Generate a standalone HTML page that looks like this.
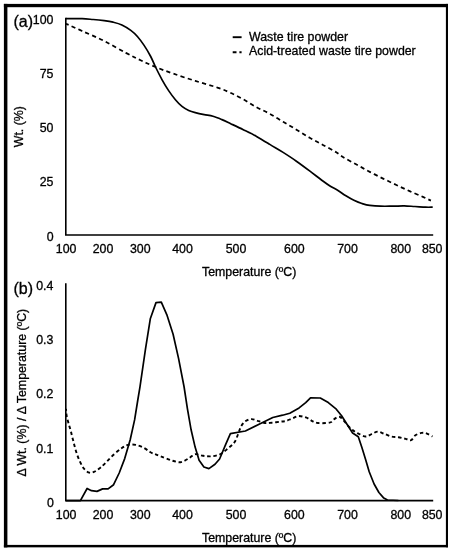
<!DOCTYPE html>
<html><head><meta charset="utf-8"><title>TGA</title>
<style>
html,body{margin:0;padding:0;background:#fff;}
body{width:452px;height:550px;overflow:hidden;position:relative;}
svg{position:absolute;left:0;top:0;display:block;}
text{font-family:"Liberation Sans",Arial,Helvetica,sans-serif;font-size:12.35px;fill:#000;stroke:#000;stroke-width:0.3px;}
.big{font-size:16px;}
.ln{fill:none;stroke:#000;stroke-width:1.7;stroke-linejoin:round;stroke-linecap:butt;}
.dt{fill:none;stroke:#000;stroke-width:1.75;stroke-dasharray:4.2 3.3;stroke-dashoffset:1.3;stroke-linejoin:round;}
.ax{fill:none;stroke:#000;stroke-width:1.6;stroke-linecap:square;}
</style></head><body>
<svg width="452" height="550" viewBox="0 0 452 550">
<rect x="0" y="0" width="452" height="550" fill="#fff"/>
<!-- frame -->
<rect x="3.9" y="3.9" width="444.1" height="3.3" fill="#000"/>
<rect x="3.9" y="3.9" width="3.5" height="543.5" fill="#000"/>
<rect x="445.9" y="3.9" width="2.1" height="543.4" fill="#000"/>
<rect x="3.9" y="544.9" width="444.1" height="2.45" fill="#000"/>

<!-- panel a -->
<text class="big" x="13.5" y="27">(a)</text>
<path class="ax" d="M65.8 18.6 V235.05 H432.4"/>
<g text-anchor="end">
<text x="53.4" y="23.7">100</text>
<text x="53.4" y="77.6">75</text>
<text x="53.4" y="131.7">50</text>
<text x="53.4" y="186.1">25</text>
<text x="53.7" y="240.6">0</text>
</g>
<text x="66.1" y="253.1" text-anchor="middle">100</text><text x="103.0" y="253.1" text-anchor="middle">200</text><text x="140.3" y="253.1" text-anchor="middle">300</text><text x="182.5" y="253.1" text-anchor="middle">400</text><text x="236.0" y="253.1" text-anchor="middle">500</text><text x="294.4" y="253.1" text-anchor="middle">600</text><text x="347.5" y="253.1" text-anchor="middle">700</text><text x="400.8" y="253.1" text-anchor="middle">800</text><text x="432.2" y="253.1" text-anchor="middle">850</text>
<text x="202" y="275.6">Temperature (ºC)</text>
<text transform="translate(22.7 126.7) rotate(-90)" text-anchor="middle">Wt. (%)</text>
<path class="ln" d="M65.8 18.7 C68.5 18.7 77.5 18.6 82.1 18.7 C86.7 18.8 89.5 19.2 93.2 19.5 C96.9 19.8 100.9 20.2 104.2 20.6 C107.5 21.1 110.1 21.5 113.1 22.2 C116.0 22.9 119.0 23.6 121.9 25.0 C124.9 26.4 128.2 28.5 130.8 30.4 C133.4 32.3 135.2 34.0 137.4 36.5 C139.6 39.0 141.9 42.1 144.1 45.4 C146.3 48.7 148.8 52.9 150.7 56.5 C152.6 60.1 153.6 63.1 155.5 67.0 C157.4 70.9 159.9 75.8 162.1 79.8 C164.3 83.8 166.6 87.6 168.8 90.9 C171.0 94.2 173.2 97.1 175.4 99.7 C177.6 102.3 179.8 104.6 182.0 106.4 C184.2 108.2 186.5 109.4 188.7 110.4 C190.9 111.4 192.7 111.9 195.3 112.6 C197.9 113.3 201.2 114.0 204.2 114.6 C207.1 115.2 210.1 115.5 213.0 116.3 C215.9 117.1 219.0 118.4 221.9 119.6 C224.8 120.8 227.1 122.0 230.7 123.7 C234.3 125.4 239.0 127.6 243.3 129.7 C247.6 131.8 252.1 133.9 256.5 136.4 C260.9 138.9 265.4 141.7 269.8 144.4 C274.2 147.1 278.7 149.6 283.1 152.4 C287.5 155.2 292.0 158.1 296.4 161.2 C300.8 164.3 305.2 167.6 309.6 170.9 C314.0 174.2 319.5 178.5 322.9 181.0 C326.3 183.5 327.5 184.4 330.0 186.0 C332.5 187.6 335.4 188.9 338.0 190.5 C340.6 192.1 343.2 194.2 345.9 195.8 C348.5 197.4 351.2 199.0 353.9 200.3 C356.6 201.6 359.2 202.7 361.9 203.5 C364.5 204.3 366.7 205.0 369.8 205.4 C372.9 205.8 376.4 206.1 380.4 206.2 C384.4 206.3 389.7 206.2 393.7 206.2 C397.7 206.1 400.8 205.8 404.3 205.9 C407.8 206.0 411.3 206.3 414.9 206.5 C418.4 206.7 422.6 207.1 425.6 207.2 C428.6 207.3 431.5 207.2 432.7 207.2"/>
<path class="dt" d="M66.0 23.7 C68.7 24.9 75.7 28.1 82.1 31.0 C88.5 33.9 96.8 37.3 104.2 41.0 C111.6 44.7 120.2 49.9 126.4 53.1 C132.6 56.4 136.2 58.2 141.1 60.5 C145.9 62.8 150.2 64.8 155.5 67.0 C160.8 69.2 166.6 71.3 173.2 73.6 C179.8 75.9 187.9 78.6 195.3 80.9 C202.7 83.2 211.6 85.6 217.4 87.6 C223.2 89.5 225.7 90.6 230.0 92.6 C234.3 94.5 238.9 96.9 243.3 99.3 C247.7 101.7 252.1 104.8 256.5 107.2 C260.9 109.6 265.4 111.4 269.8 113.8 C274.2 116.2 278.7 119.2 283.1 121.8 C287.5 124.4 292.0 127.0 296.4 129.7 C300.8 132.3 305.2 135.2 309.6 137.7 C314.0 140.2 318.5 142.5 322.9 144.9 C327.3 147.3 332.8 150.2 336.2 152.3 C339.6 154.4 339.9 155.3 343.3 157.3 C346.7 159.3 352.1 162.1 356.5 164.5 C360.9 166.9 365.4 169.6 369.8 171.9 C374.2 174.2 378.7 176.4 383.1 178.6 C387.5 180.8 392.0 182.9 396.4 185.0 C400.8 187.1 405.2 189.1 409.6 191.1 C414.0 193.1 419.3 195.3 422.9 196.9 C426.4 198.5 429.6 200.0 430.9 200.6"/>
<path class="ln" d="M232.7 37.2 H241.6" style="stroke-width:1.9"/>
<path class="ln" d="M232.7 52.2 H236.5 M239.4 52.2 H241.6" style="stroke-width:1.9"/>
<text x="249" y="41.3">Waste tire powder</text>
<text x="249" y="55.3">Acid-treated waste tire powder</text>

<!-- panel b -->
<text class="big" x="13.5" y="293.5">(b)</text>
<path class="ax" d="M65.8 284 V500.6 H432.4"/>
<g text-anchor="end">
<text x="53.4" y="289.8">0.4</text>
<text x="53.4" y="343.7">0.3</text>
<text x="53.4" y="398.3">0.2</text>
<text x="53.4" y="452.6">0.1</text>
<text x="53.8" y="506.5">0</text>
</g>
<text x="66.1" y="518.8" text-anchor="middle">100</text><text x="103.0" y="518.8" text-anchor="middle">200</text><text x="140.3" y="518.8" text-anchor="middle">300</text><text x="182.5" y="518.8" text-anchor="middle">400</text><text x="236.0" y="518.8" text-anchor="middle">500</text><text x="294.4" y="518.8" text-anchor="middle">600</text><text x="347.5" y="518.8" text-anchor="middle">700</text><text x="400.8" y="518.8" text-anchor="middle">800</text><text x="432.2" y="518.8" text-anchor="middle">850</text>
<text x="202" y="541.5">Temperature (ºC)</text>
<text transform="translate(26.3 392.7) rotate(-90)" text-anchor="middle">Δ Wt. (%) / Δ Temperature (ºC)</text>
<path class="ln" d="M66.0 500.7 L80.4 500.7 L87.1 488.5 L91.5 490.7 L97.0 491.4 L102.6 488.9 L108.1 488.9 L113.6 484.7 L119.2 473.0 L124.7 458.6 L130.2 439.8 L134.6 419.9 L137.8 400.0 L139.9 387.3 L145.4 349.7 L150.3 318.8 L156.0 302.6 L161.3 302.2 L167.1 315.4 L173.1 334.2 L178.6 358.6 L184.1 387.0 L187.4 408.6 L191.1 429.8 L195.1 447.1 L199.1 460.3 L203.9 467.0 L208.9 468.6 L215.0 464.3 L219.6 459.0 L225.7 444.4 L230.4 433.6 L245.4 431.0 L259.6 423.9 L272.8 417.5 L282.6 415.2 L289.8 413.2 L299.1 407.9 L305.7 402.6 L310.5 397.8 L320.3 398.0 L328.3 402.6 L336.3 409.2 L341.6 415.8 L346.5 423.5 L352.6 433.0 L358.3 436.7 L361.9 447.5 L365.6 459.6 L369.2 471.8 L374.1 484.0 L378.9 492.5 L383.8 498.1 L387.5 500.0 L398.4 500.5"/>
<path class="dt" style="stroke-width:1.9;stroke-dasharray:3.5 2.7" d="M66.0 408.8 C66.1 409.9 66.2 413.1 66.6 415.5 C67.0 417.9 67.8 420.6 68.5 423.2 C69.2 425.8 70.1 428.4 70.8 431.0 C71.5 433.6 72.0 436.1 72.7 438.7 C73.4 441.3 74.0 443.9 74.7 446.5 C75.4 449.1 76.1 451.6 77.0 454.2 C77.9 456.8 78.9 459.5 80.1 461.9 C81.3 464.3 82.5 466.9 84.0 468.7 C85.5 470.5 87.6 472.2 89.4 472.7 C91.2 473.2 93.0 472.3 94.8 471.5 C96.6 470.7 98.3 469.4 100.3 467.8 C102.2 466.2 104.2 464.2 106.5 461.9 C108.8 459.6 111.6 456.5 114.2 454.2 C116.8 451.9 119.6 449.6 121.9 448.0 C124.2 446.4 125.8 445.4 128.1 444.9 C130.4 444.4 133.2 444.4 135.8 444.9 C138.4 445.3 141.1 446.4 143.5 447.6 C145.9 448.8 148.2 450.9 150.1 452.0 C152.0 453.1 153.2 453.5 155.0 454.2 C156.8 454.9 157.9 455.4 160.6 456.4 C163.3 457.4 167.9 459.3 171.2 460.3 C174.5 461.3 177.6 462.5 180.5 462.2 C183.4 461.9 186.1 459.8 188.5 458.5 C190.9 457.2 192.7 454.6 195.1 454.2 C197.5 453.8 200.3 455.4 203.1 455.8 C205.9 456.2 208.9 456.6 211.8 456.3 C214.7 456.0 217.9 455.3 220.6 454.0 C223.2 452.7 225.4 450.6 227.7 448.7 C230.0 446.8 232.5 445.0 234.3 442.5 C236.1 440.0 237.2 436.3 238.3 433.6 C239.4 430.9 239.8 428.6 241.0 426.5 C242.2 424.4 243.6 422.4 245.4 421.2 C247.2 420.0 249.5 419.2 251.6 419.1 C253.7 419.1 255.6 420.2 257.8 420.9 C260.0 421.5 262.5 422.7 264.9 423.0 C267.2 423.3 269.2 422.9 271.9 422.7 C274.5 422.5 278.4 421.9 280.8 421.6 C283.2 421.3 284.1 421.6 286.0 421.0 C287.9 420.4 290.4 419.1 292.5 418.3 C294.6 417.5 296.3 416.1 298.6 416.0 C300.9 415.9 304.1 416.8 306.5 417.7 C308.9 418.6 310.8 420.4 312.7 421.3 C314.6 422.2 315.8 422.7 318.0 423.0 C320.2 423.3 323.8 423.2 326.0 423.0 C328.2 422.8 329.8 422.7 331.3 422.0 C332.8 421.3 333.6 419.5 334.9 418.6 C336.2 417.7 338.0 416.6 339.3 416.7 C340.6 416.8 341.5 418.1 342.8 419.5 C344.1 420.9 345.7 423.0 347.3 424.8 C348.9 426.6 350.8 428.7 352.6 430.1 C354.4 431.5 355.7 432.3 357.9 433.4 C360.1 434.5 363.3 436.4 365.6 436.5 C367.9 436.6 369.6 434.9 371.6 434.1 C373.6 433.3 375.7 431.7 377.7 431.6 C379.7 431.5 381.6 432.8 383.8 433.6 C386.0 434.4 388.7 435.9 391.1 436.5 C393.5 437.1 396.0 436.8 398.4 437.2 C400.8 437.6 403.6 438.4 405.7 438.9 C407.8 439.4 409.5 440.8 411.1 440.2 C412.7 439.6 413.7 436.5 415.4 435.3 C417.1 434.1 419.7 433.2 421.5 432.9 C423.3 432.6 424.6 432.7 426.4 433.3 C428.2 433.9 431.5 436.0 432.5 436.5"/>
</svg>
</body></html>
